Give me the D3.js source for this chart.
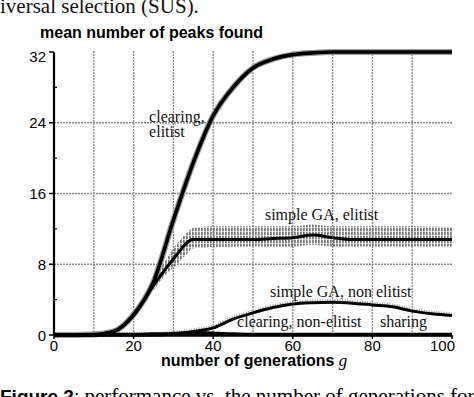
<!DOCTYPE html>
<html><head><meta charset="utf-8">
<script src="https://cdn.jsdelivr.net/npm/d3@7"></script>
<style>
html,body{margin:0;padding:0;background:#fff;overflow:hidden;}
svg{display:block;}
</style></head>
<body>
<script>
// ---- data ----
const gens = [0,5,10,15,20,25,30,35,40,45,50,55,60,65,70,75,80,85,90,95,100];
const clearingElitist = [0,0,0.05,0.4,2.3,6.0,13.0,19.5,24.8,28.0,30.2,31.2,31.7,31.9,32,32,32,32,32,32,32];
const simpleElitist   = [0,0,0.05,0.4,2.2,5.6,8.6,10.8,10.8,10.8,10.8,10.9,11.0,11.3,11.0,10.8,10.8,10.8,10.8,10.8,10.8];
const simpleNonElitist= [0,0,0,0,0,0,0.1,0.4,0.8,1.8,2.5,3.1,3.5,3.65,3.7,3.6,3.4,3.2,2.7,2.4,2.2];
const clearingNonElitist = [0,0,0,0.05,0.05,0.1,0.15,0.25,0.2,0.1,0.05,0.05,0.05,0.05,0.05,0.05,0.05,0.05,0.05,0.05,0.05];
const sharing = [0,0,0,0,0,0,0,0,0,0,0,0,0,0,0,0,0,0,0,0,0];
const bandGens  = [25,28,30,33,35,40,50,60,65,70,80,90,100];
const bandUpper = [6.2,8.4,9.8,11.4,12.1,12.3,12.3,12.3,12.5,12.3,12.3,12.3,12.2];
const bandLower = [5.0,6.8,7.6,9.0,9.8,9.9,10.0,10.0,10.2,10.0,10.0,10.0,10.0];
const yTicks = [0,8,16,24,32];
const yMinor = [4,12,20,28];
const xTicks = [0,20,40,60,80,100];
const xGrid = [10,20,30,40,50,60,70,80,90];
const yGrid = [8,16,24];

const W=474,H=397;
const svg=d3.select("body").append("svg").attr("width",W).attr("height",H);
const x=d3.scaleLinear().domain([0,100]).range([54,452]);
const y=d3.scaleLinear().domain([0,32]).range([335,52]);

// pattern for hatched band
const defs=svg.append("defs");
const pat=defs.append("pattern").attr("id","hatch").attr("patternUnits","userSpaceOnUse")
  .attr("width",3).attr("height",4);
pat.append("rect").attr("x",0).attr("y",0).attr("width",1.8).attr("height",3.4).attr("fill","#7a7a7a");

// top partial text
svg.append("text").attr("x",0).attr("y",13).attr("font-family","Liberation Serif, Times New Roman, serif")
  .attr("font-size",21).attr("fill","#111").text("iversal selection (SUS).");

// title
svg.append("text").attr("x",40).attr("y",38).attr("font-family","Liberation Sans, Arial, sans-serif")
  .attr("font-weight","bold").attr("font-size",16).attr("fill","#000").text("mean number of peaks found");

// gridlines
const grid=svg.append("g").attr("stroke","#8a8a8a").attr("stroke-width",1.3).attr("stroke-dasharray","2,1");
grid.selectAll("line.v").data(xGrid).join("line").attr("class","v")
  .attr("x1",d=>x(d)).attr("x2",d=>x(d)).attr("y1",y(32)-1).attr("y2",y(0));
grid.selectAll("line.h").data(yGrid).join("line").attr("class","h")
  .attr("x1",x(0)).attr("x2",x(100)).attr("y1",d=>y(d)).attr("y2",d=>y(d));

// band for simple GA elitist
const bandData=bandGens.map((g,i)=>({g,u:bandUpper[i],l:bandLower[i]}));
svg.append("path").datum(bandData)
  .attr("d",d3.area().x(d=>x(d.g)).y0(d=>y(d.l)).y1(d=>y(d.u)).curve(d3.curveMonotoneX))
  .attr("fill","url(#hatch)");

const line=(arr)=>d3.line().x((d,i)=>x(gens[i])).y(d=>y(d)).curve(d3.curveMonotoneX)(arr);

// halos
svg.append("path").attr("d",line(clearingElitist)).attr("fill","none").attr("stroke","#9a9a9a").attr("stroke-width",6);
svg.append("path").attr("d",line(simpleNonElitist.map(v=>v+0.25))).attr("fill","none").attr("stroke","#a0a0a0")
  .attr("stroke-width",2).attr("stroke-dasharray","1,1.5");

// lines
[sharing,clearingNonElitist].forEach(a=>{
  svg.append("path").attr("d",line(a)).attr("fill","none").attr("stroke","#000").attr("stroke-width",3.5);
});
svg.append("path").attr("d",line(simpleNonElitist)).attr("fill","none").attr("stroke","#000").attr("stroke-width",3);
svg.append("path").attr("d",line(simpleElitist)).attr("fill","none").attr("stroke","#000").attr("stroke-width",3);
svg.append("path").attr("d",line(clearingElitist)).attr("fill","none").attr("stroke","#000").attr("stroke-width",3.6);

// axes
svg.append("line").attr("x1",x(0)).attr("x2",x(0)).attr("y1",y(32)).attr("y2",y(0)).attr("stroke","#000").attr("stroke-width",2.2);
svg.append("line").attr("x1",x(0)).attr("x2",x(100)).attr("y1",y(0)).attr("y2",y(0)).attr("stroke","#000").attr("stroke-width",2.2);
svg.selectAll("line.yt").data(yTicks).join("line").attr("class","yt")
  .attr("x1",x(0)-5).attr("x2",x(0)).attr("y1",d=>y(d)).attr("y2",d=>y(d)).attr("stroke","#000").attr("stroke-width",1.5);
svg.selectAll("line.ym").data(yMinor).join("line").attr("class","ym")
  .attr("x1",x(0)).attr("x2",x(0)+3).attr("y1",d=>y(d)).attr("y2",d=>y(d)).attr("stroke","#000").attr("stroke-width",1.2);
svg.selectAll("line.xt").data(xTicks).join("line").attr("class","xt")
  .attr("x1",d=>x(d)).attr("x2",d=>x(d)).attr("y1",y(0)).attr("y2",y(0)+4).attr("stroke","#000").attr("stroke-width",1.5);

const sans="Liberation Sans, Arial, sans-serif";
svg.selectAll("text.yl").data(yTicks).join("text").attr("class","yl")
  .attr("x",46).attr("y",d=>y(d)+(d===32?10:5.5)).attr("text-anchor","end")
  .attr("font-family",sans).attr("font-size",15).text(d=>d);
svg.selectAll("text.xl").data(xTicks).join("text").attr("class","xl")
  .attr("x",d=>d===100?x(d)+3:x(d)).attr("y",351).attr("text-anchor",d=>d===100?"end":"middle")
  .attr("font-family",sans).attr("font-size",15).text(d=>d);

const xl=svg.append("text").attr("x",161).attr("y",366).attr("font-family",sans).attr("font-weight","bold").attr("font-size",16);
xl.append("tspan").text("number of generations ");
xl.append("tspan").attr("font-family","Liberation Serif, Times New Roman, serif").attr("font-style","italic").attr("font-weight","normal").attr("font-size",17).text("g");

// curve labels
const serif="Liberation Serif, Times New Roman, serif";
const lab=(gx,gy,t)=>svg.append("text").attr("x",x(gx)).attr("y",y(gy)).attr("font-family",serif).attr("font-size",16).attr("fill","#111").text(t);
lab(23.9,24.1,"clearing,");
lab(23.9,22.4,"elitist");
lab(53,13,"simple GA, elitist");
lab(54.3,4.3,"simple GA, non elitist");
lab(46,0.9,"clearing, non-elitist");
lab(81.9,0.9,"sharing");

// caption (partially visible)
const cap=svg.append("text").attr("x",0).attr("y",403).attr("font-size",21);
cap.append("tspan").attr("font-family",sans).attr("font-weight","bold").attr("font-size",19).text("Figure 2");
cap.append("tspan").attr("font-family",sans).attr("font-size",19).text(":");
cap.append("tspan").attr("font-family",serif).text(" performance vs. the number of generations for");
</script>
</body></html>
